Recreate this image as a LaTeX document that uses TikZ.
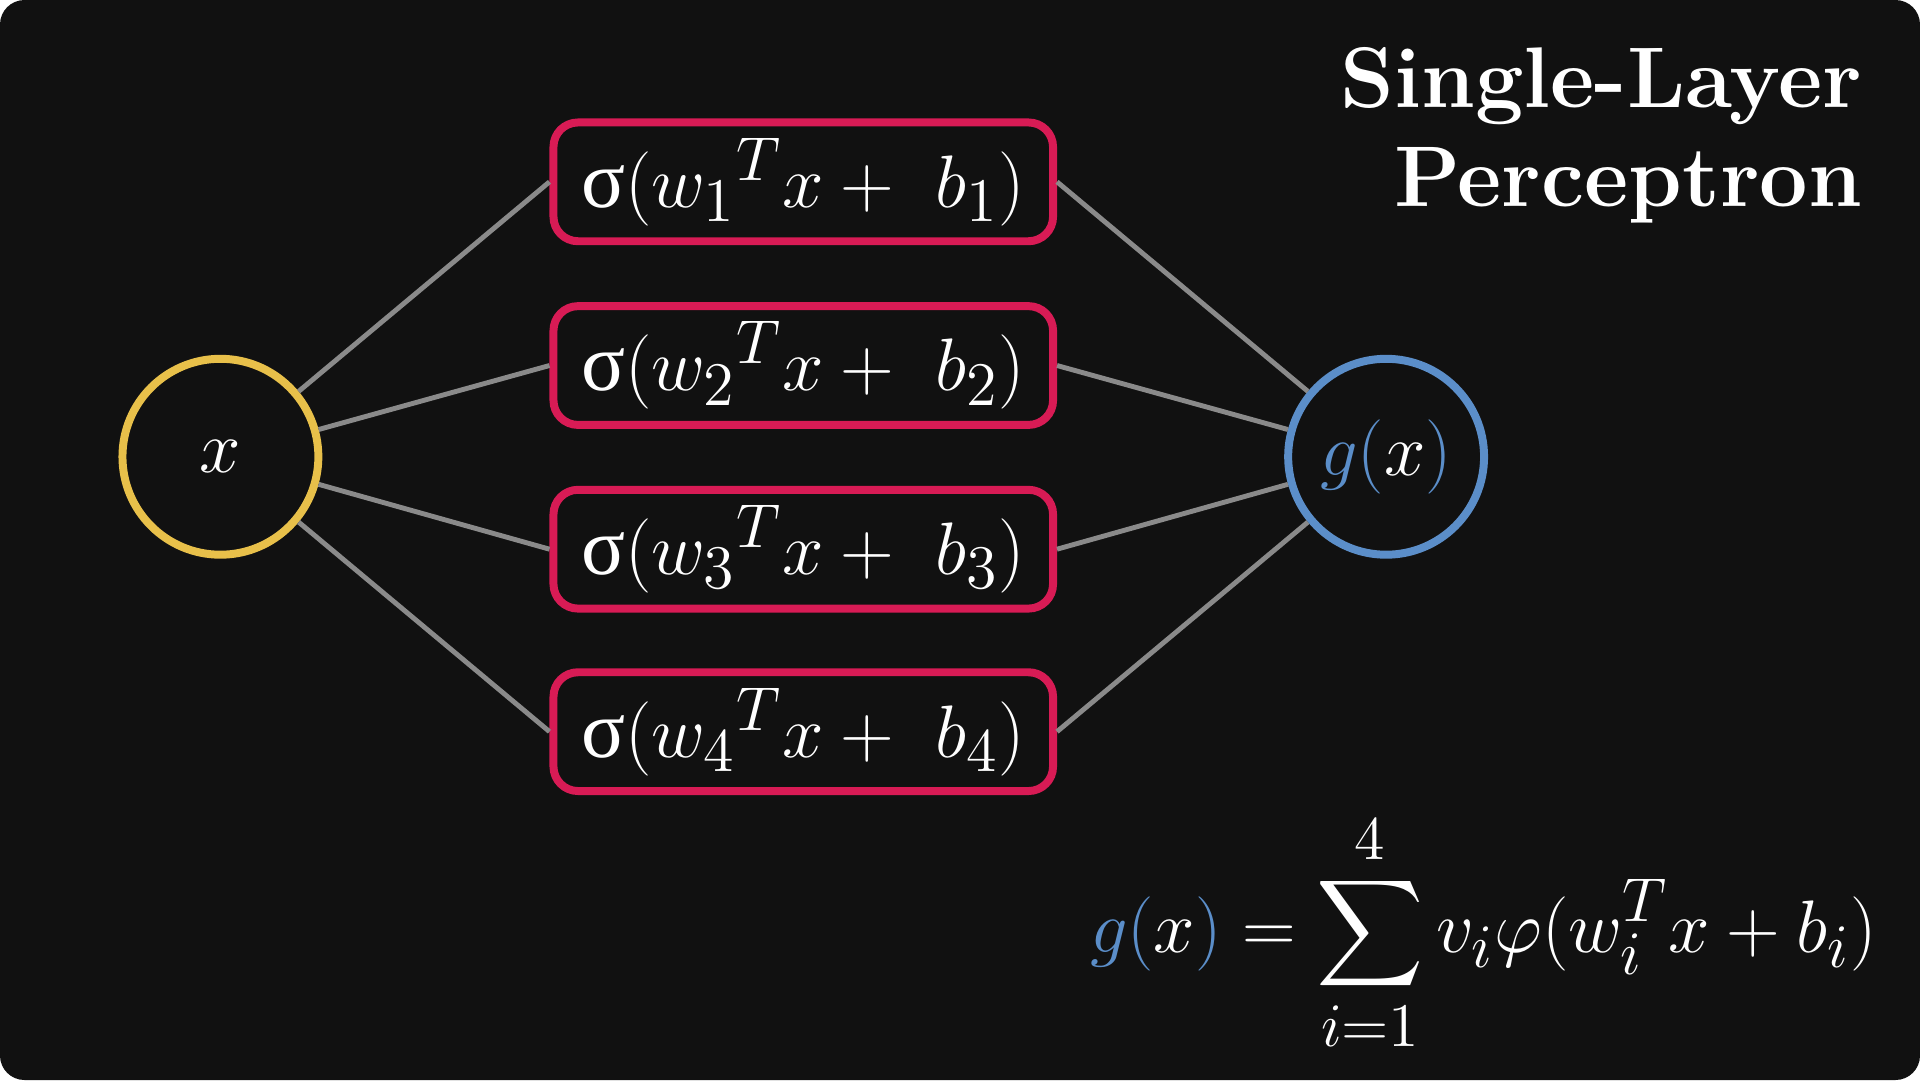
\documentclass[tikz,border=0pt]{standalone}
\usepackage{fontspec}
\usepackage{amsmath}
\newfontfamily\sigfont{Liberation Serif}
\definecolor{bg}{HTML}{111111}
\definecolor{yel}{HTML}{E8C04A}
\definecolor{red}{HTML}{D81B55}
\definecolor{blu}{HTML}{5B8EC9}
\definecolor{edge}{HTML}{8A8A8A}
\newcommand{\sg}{\text{\sigfont σ}}
\newcommand{\sub}[1]{\text{\fontsize{15}{15}\selectfont$#1$}}
\begin{document}
\begin{tikzpicture}[x=0.1mm,y=-0.1mm,
  hid/.style={draw=red,line width=0.65mm,rounded corners=2mm,minimum width=40.8mm,minimum height=9.7mm,text=white,font=\fontsize{19}{22}\selectfont},
  circ/.style={circle,line width=0.65mm,minimum size=16mm,text=white,font=\fontsize{19}{22}\selectfont},
  conn/.style={draw=edge,line width=0.4mm}]
\fill[white] (0,0) rectangle (1568,882);
\fill[bg,rounded corners=2mm] (0,0) rectangle (1568,882);
\useasboundingbox (0,0) rectangle (1568,882);
\node[circ,draw=yel] (x) at (180,373) {$x$};
\node[circ,draw=blu,text=white] (g) at (1132,373) {$\color{blu}g(\color{white}x\color{blu})$};
\foreach \i/\y in {1/148.5,2/298.5,3/448.5,4/597.5}{
  \node[hid] (h\i) at (656,\y) {$\sg(w_{\sub{\i}}{}^{T}x +\ b_{\sub{\i}})$};
  \draw[conn] (x) -- (h\i.west);
  \draw[conn] (h\i.east) -- (g);
}
\node[anchor=north east,align=right,text=white,font=\fontsize{20}{24.5}\selectfont\bfseries] (t) at (1533,26) {Single-Layer\\[-0.5mm]Perceptron};
\node[anchor=east,text=white,font=\fontsize{19}{22}\selectfont] (f) at (1545,762) {$\color{blu}g(\color{white}x\color{blu})\color{white} = \displaystyle\sum_{i=1}^{4} v_i\varphi(w_i^Tx+b_i)$};
\end{tikzpicture}
\end{document}
